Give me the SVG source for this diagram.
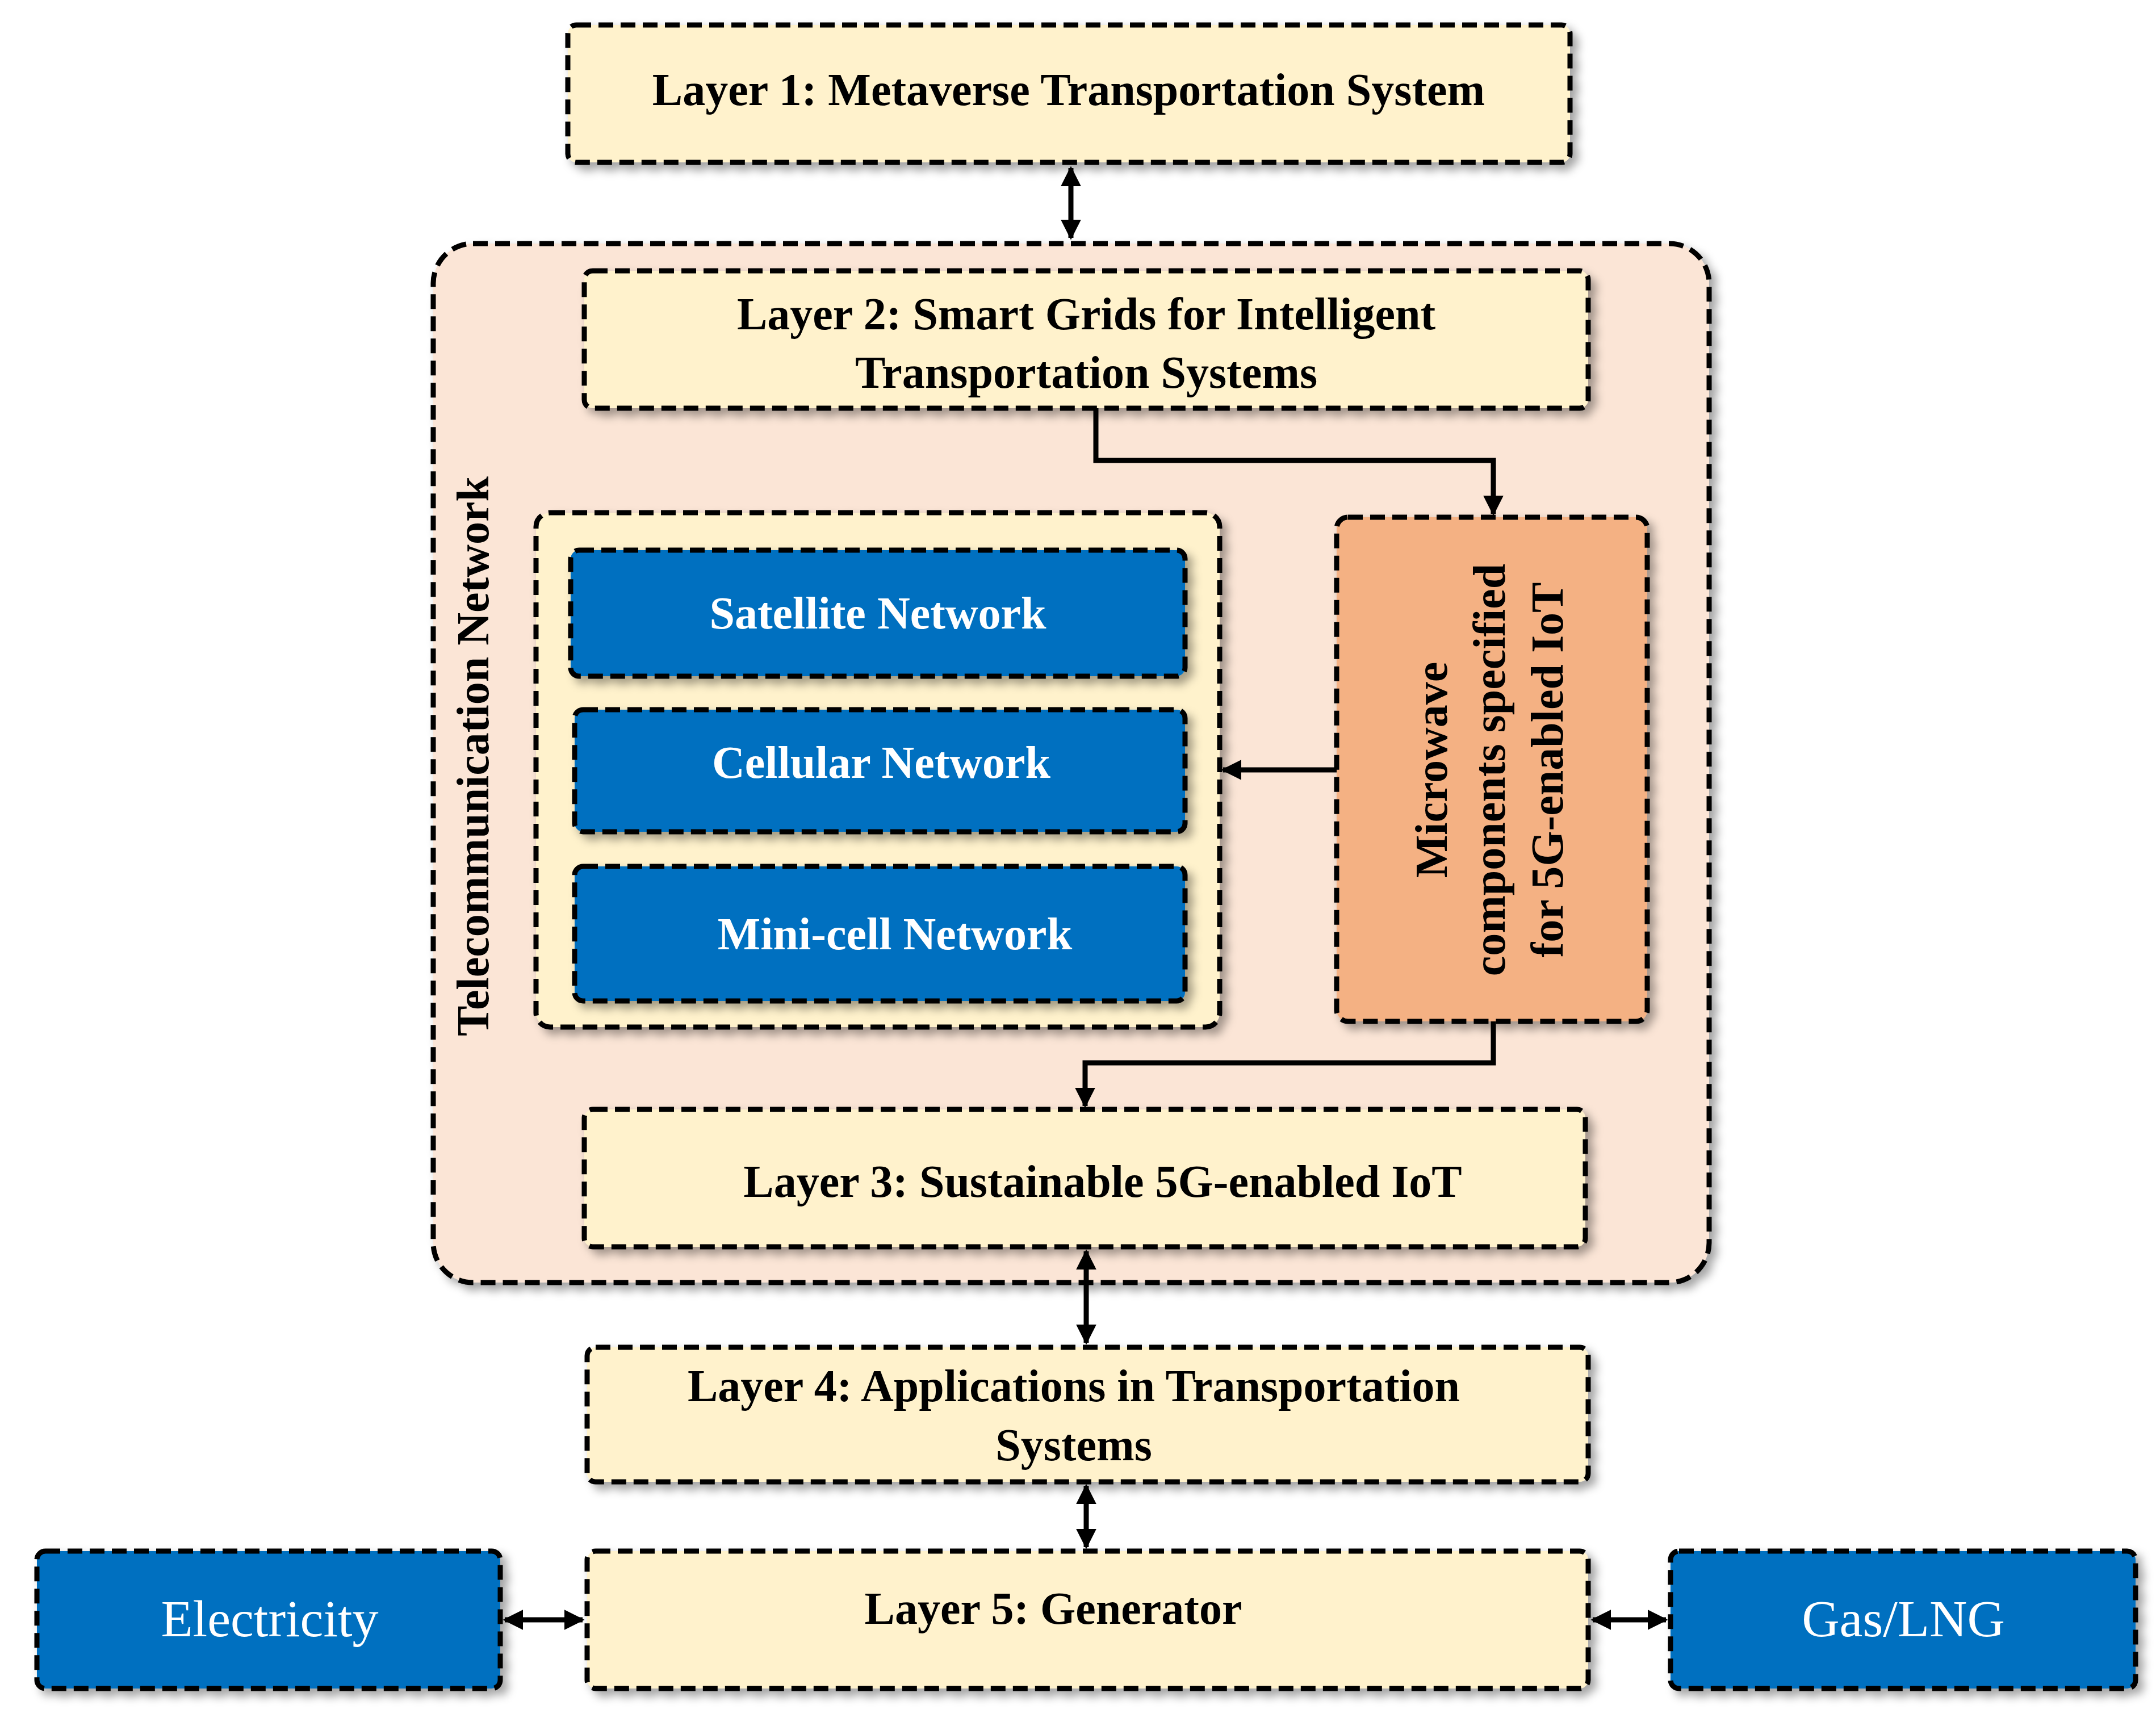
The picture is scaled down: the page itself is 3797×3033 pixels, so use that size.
<svg xmlns="http://www.w3.org/2000/svg" width="3797" height="3033" viewBox="0 0 3797 3033">
<defs>
<filter id="sh" x="-10%" y="-10%" width="130%" height="130%"><feDropShadow dx="10" dy="10" stdDeviation="8" flood-color="#000" flood-opacity="0.35"/></filter>
<marker id="ah" viewBox="0 0 10 10" refX="9" refY="5" markerWidth="4" markerHeight="4" orient="auto-start-reverse"><path d="M0,0 L10,5 L0,10 z" fill="#000"/></marker>
</defs>
<style>
.b{stroke:#000;stroke-width:9;stroke-dasharray:26 13;filter:url(#sh)}
.cr{fill:#FFF2CC}.bl{fill:#0070C0}.or{fill:#F4B183}.pk{fill:#FBE5D6}
.t{font-family:"Liberation Serif",serif;font-weight:bold;font-size:80px;text-anchor:middle;fill:#000}
.w{fill:#fff}
.c{fill:none;stroke:#000;stroke-width:9}
</style>
<rect width="3797" height="3033" fill="#fff"/>
<g id="telecom"><rect class="b pk" x="763" y="429" width="2247" height="1830" rx="70"/>
<text class="t" transform="translate(860,1332) rotate(-90)">Telecommunication Network</text></g>
<g id="layer1"><rect class="b cr" x="1000" y="44" width="1765" height="242" rx="15"/><text class="t" x="1882" y="185">Layer 1: Metaverse Transportation System</text></g>
<g id="layer2"><rect class="b cr" x="1029" y="477" width="1768" height="242" rx="15"/><text class="t" x="1913" y="580">Layer 2: Smart Grids for Intelligent</text><text class="t" x="1913" y="683">Transportation Systems</text></g>
<g id="inner"><rect class="b cr" x="944" y="903" width="1204" height="906" rx="25"/></g>
<g id="satellite"><rect class="b bl" x="1005" y="969" width="1082" height="222" rx="15"/><text class="t w" x="1546" y="1107">Satellite Network</text></g>
<g id="cellular"><rect class="b bl" x="1012" y="1250" width="1075" height="215" rx="15"/><text class="t w" x="1552" y="1370">Cellular Network</text></g>
<g id="minicell"><rect class="b bl" x="1012" y="1526" width="1075" height="237" rx="15"/><text class="t w" x="1576" y="1672">Mini-cell Network</text></g>
<g id="microwave"><rect class="b or" x="2354" y="911" width="547" height="888" rx="20"/>
<g transform="translate(2628,1356) rotate(-90)"><text class="t" x="0" y="-80">Microwave</text><text class="t" x="0" y="22">components specified</text><text class="t" x="0" y="124">for 5G-enabled IoT</text></g></g>
<g id="layer3"><rect class="b cr" x="1029" y="1954" width="1763" height="242" rx="15"/><text class="t" x="1942" y="2108">Layer 3: Sustainable 5G-enabled IoT</text></g>
<g id="layer4"><rect class="b cr" x="1034" y="2373" width="1763" height="237" rx="15"/><text class="t" x="1891" y="2468">Layer 4: Applications in Transportation</text><text class="t" x="1891" y="2572">Systems</text></g>
<g id="layer5"><rect class="b cr" x="1034" y="2732" width="1763" height="242" rx="15"/><text class="t" x="1855" y="2860">Layer 5: Generator</text></g>
<g id="electricity"><rect class="b bl" x="65" y="2732" width="816" height="242" rx="15"/><text class="t w" style="font-weight:normal;font-size:92px" x="475" y="2882">Electricity</text></g>
<g id="gas"><rect class="b bl" x="2942" y="2732" width="819" height="242" rx="15"/><text class="t w" style="font-weight:normal;font-size:92px" x="3352" y="2882">Gas/LNG</text></g>
<g id="connectors">
<path class="c" d="M1886,296 V419" marker-start="url(#ah)" marker-end="url(#ah)"/>
<path class="c" d="M1930,719 V811 H2630 V905" marker-end="url(#ah)"/>
<path class="c" d="M2354,1356 H2154" marker-end="url(#ah)"/>
<path class="c" d="M2630,1799 V1872 H1911 V1948" marker-end="url(#ah)"/>
<path class="c" d="M1913,2204 V2365" marker-start="url(#ah)" marker-end="url(#ah)"/>
<path class="c" d="M1913,2617 V2725" marker-start="url(#ah)" marker-end="url(#ah)"/>
<path class="c" d="M889,2853 H1026" marker-start="url(#ah)" marker-end="url(#ah)"/>
<path class="c" d="M2805,2853 H2934" marker-start="url(#ah)" marker-end="url(#ah)"/>
</g>
</svg>
